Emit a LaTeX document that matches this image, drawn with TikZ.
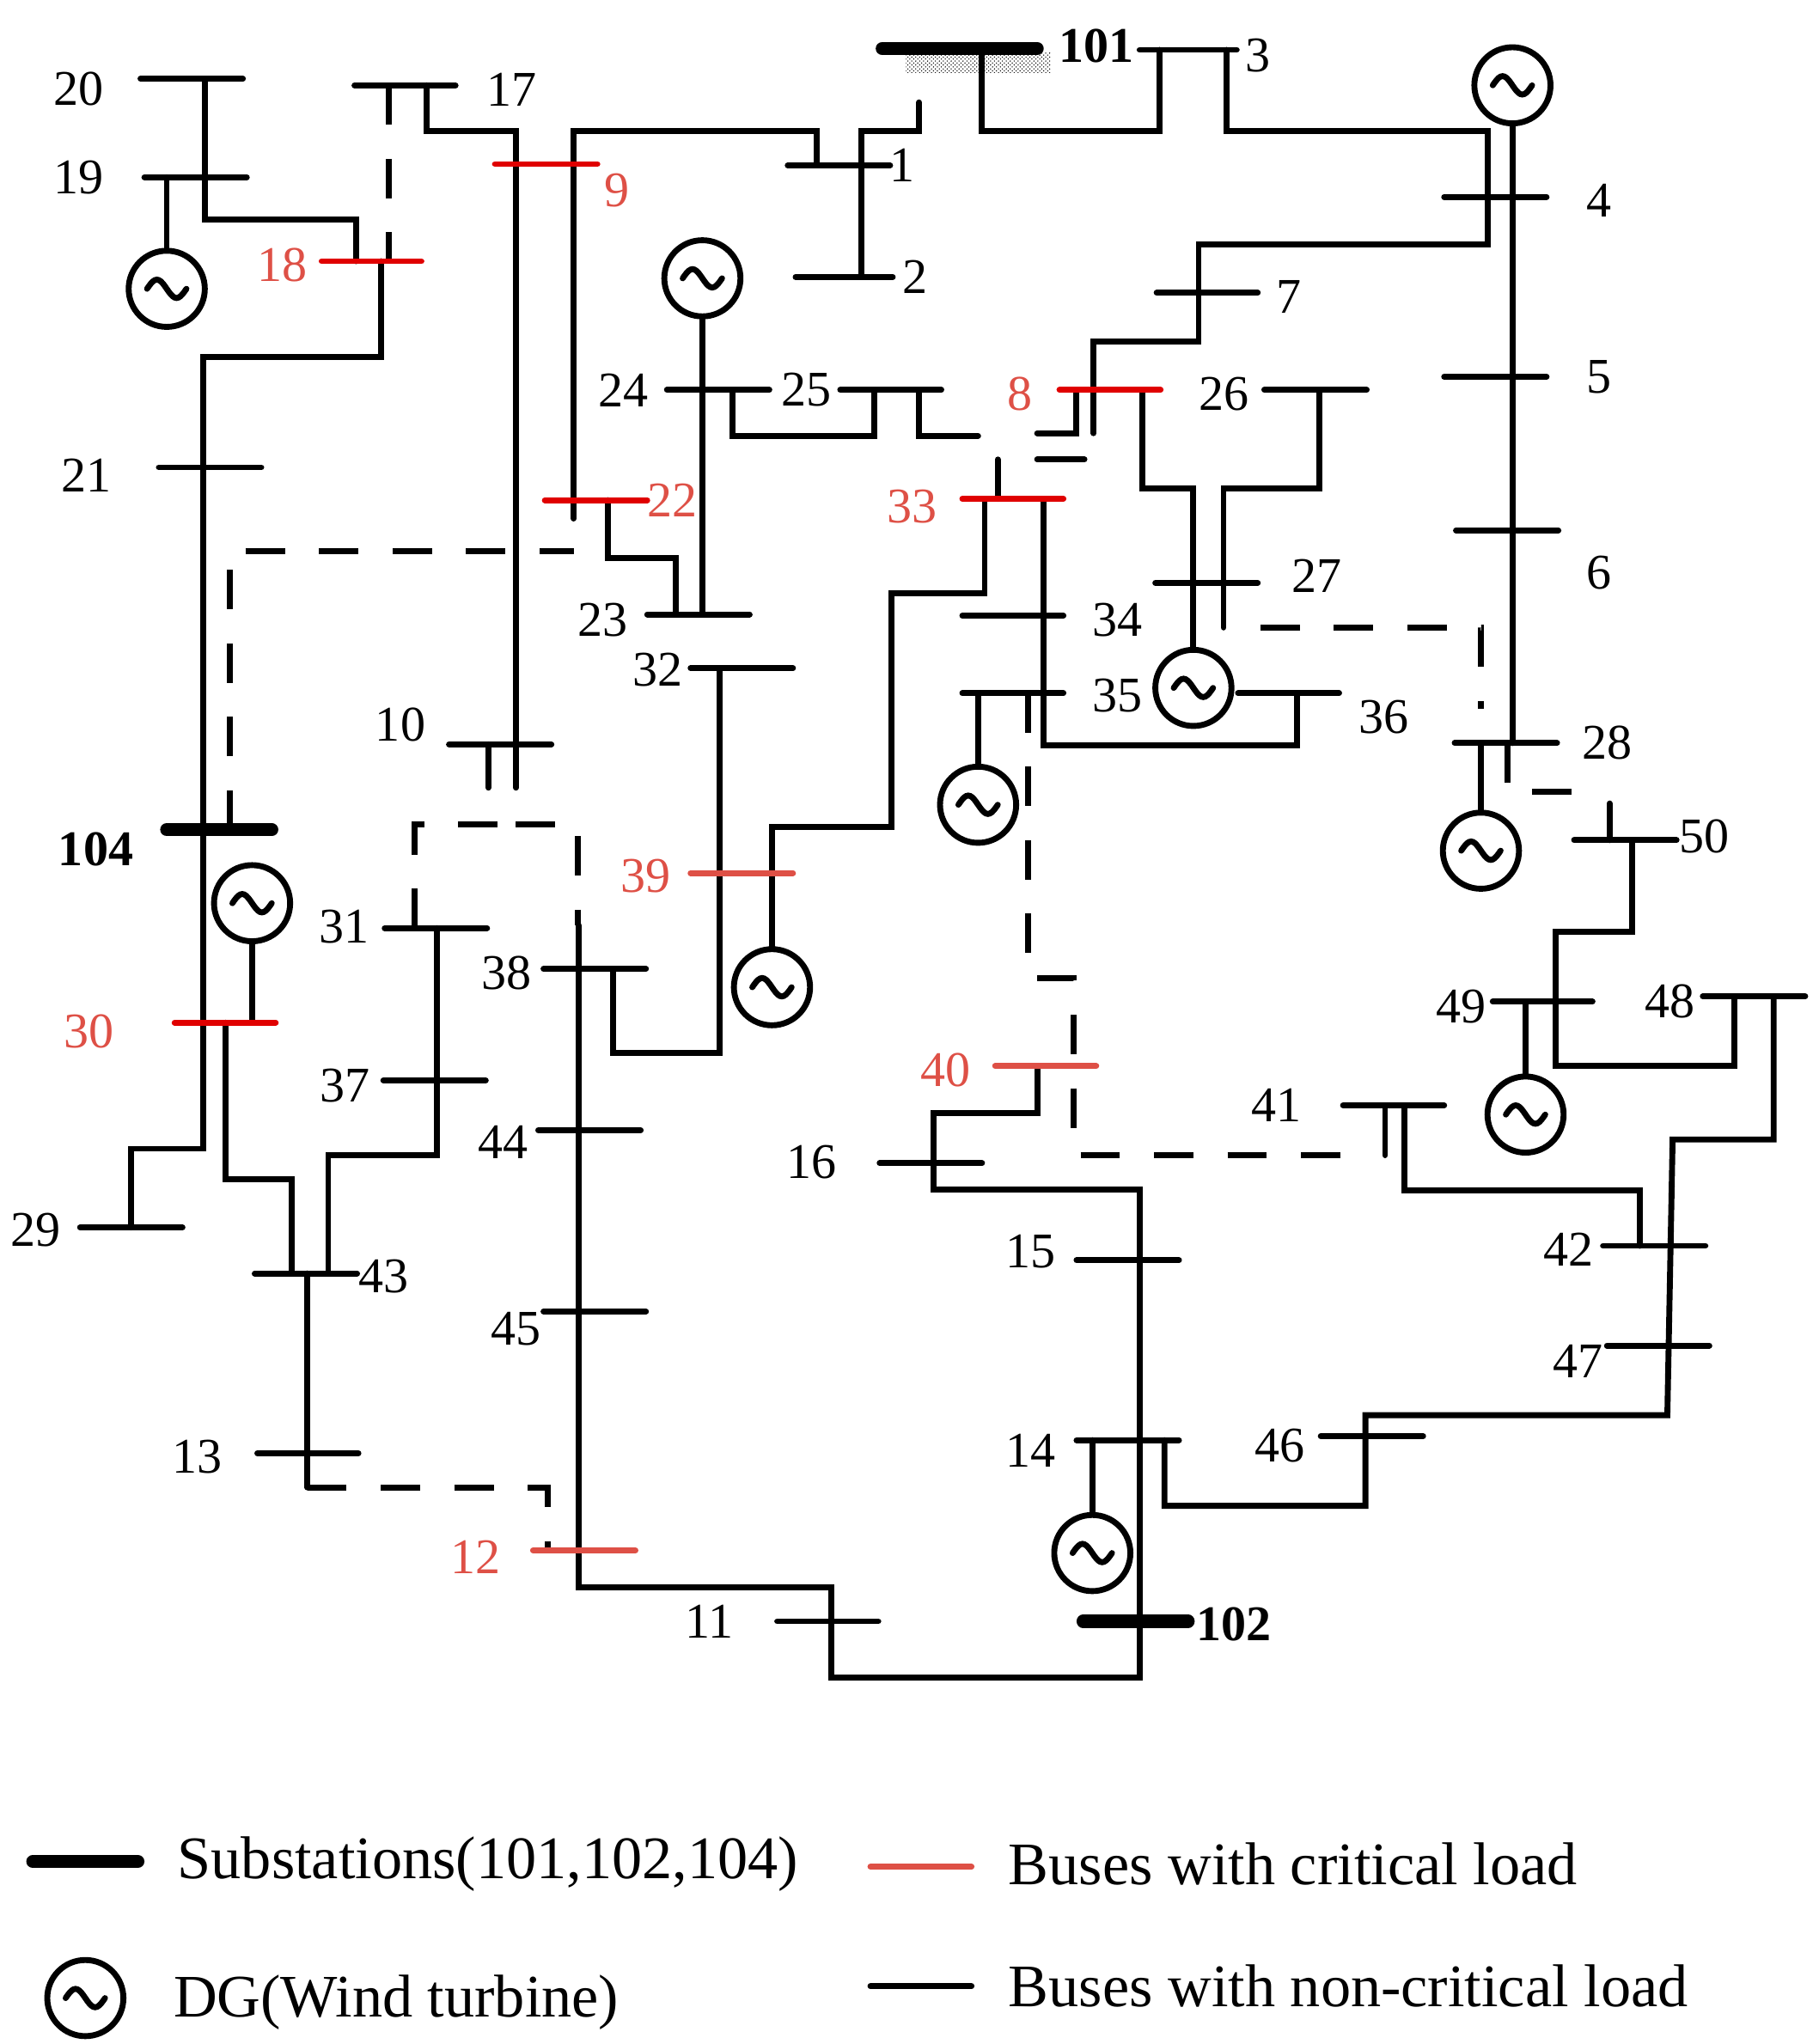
\documentclass[tikz,border=0pt]{standalone}
\usepackage{fontspec}
\setmainfont{Liberation Serif}
\usetikzlibrary{patterns}
\definecolor{crit}{RGB}{224,0,0}
\definecolor{critl}{RGB}{222,80,70}
\begin{document}
\begin{tikzpicture}[x=1pt,y=-1pt,line width=4.5pt,line cap=round,line join=miter,
  bus/.style={line width=4.5pt},
  rbus/.style={line width=4.5pt,crit},
  lbus/.style={line width=4.5pt,critl},
  sub/.style={line width=10pt},
  tie/.style={dash pattern=on 30pt off 26pt,line cap=butt},
  lab/.style={font=\fontsize{38}{40}\selectfont,inner sep=0pt},
  rlab/.style={lab,text=critl},
  blab/.style={lab,font=\fontsize{38}{40}\selectfont\bfseries},
  dg/.pic={\draw[line width=4.5pt,fill=white] (0,0) circle (29);
           \draw[line width=4.5pt] plot[smooth,domain=-1:1,samples=21] ({15*\x},{7*sin(180*\x)});}]
\useasboundingbox (0,0) rectangle (1385,1557);
% ---------- substations ----------
\fill[pattern=crosshatch dots] (690,40) rectangle (800,55);
\draw[sub] (672,37) -- (790,37);
\node[blab] at (835,35) {101};
\draw[sub] (825,1235) -- (905,1235);
\node[blab] at (940,1237) {102};
\draw[sub] (127,632) -- (207,632);
\node[blab] at (73,647) {104};
% ---------- solid lines ----------
\draw (437,395) -- (437,100) -- (622,100) -- (622,126);
\draw (656,211) -- (656,100) -- (700,100) -- (700,78);
\draw (748,37) -- (748,100) -- (883,100) -- (883,38);
\draw (934,38) -- (934,100) -- (1133,100) -- (1133,186) -- (913,186) -- (913,223) -- (913,260) -- (833,260) -- (833,330);
\draw (820,297) -- (820,330) -- (790,330);
\draw (760,350) -- (760,380);
\draw (790,350) -- (826,350);
\draw (325,65) -- (325,100) -- (393,100) -- (393,600);
\draw (156,60) -- (156,167) -- (271,167) -- (271,199);
\draw (290,199) -- (290,272) -- (155,272) -- (155,875) -- (100,875) -- (100,935);
\draw (172,779) -- (172,898) -- (222,898) -- (222,970);
\draw (234,970) -- (234,1133);
\draw (250,970) -- (250,880) -- (333,880) -- (333,707);
\draw (372,567) -- (372,600);
\draw (441,705) -- (441,1209) -- (633,1209) -- (633,1278) -- (868,1278) -- (868,906) -- (711,906) -- (711,848) -- (790,848) -- (790,812);
\draw (467,738) -- (467,802) -- (548,802) -- (548,509);
\draw (463,381) -- (463,425) -- (515,425) -- (515,468);
\draw (558,297) -- (558,332) -- (666,332) -- (666,297);
\draw (700,297) -- (700,332) -- (745,332);
\draw (795,380) -- (795,568) -- (988,568) -- (988,528);
\draw (870,297) -- (870,372) -- (909,372) -- (909,494);
\draw (1005,297) -- (1005,372) -- (932,372) -- (932,478);
\draw (1152,95) -- (1152,566);
\draw (1055,842) -- (1055,880);
\draw (1070,842) -- (1070,907) -- (1249,907) -- (1249,949);
\draw (1226,612) -- (1226,640);
\draw (1243,640) -- (1243,710) -- (1185,710) -- (1185,812) -- (1321,812) -- (1321,759);
\draw (1351,759) -- (1351,868) -- (1274,868) -- (1270,1078) -- (1040,1078) -- (1040,1147) -- (887,1147) -- (887,1097);
\draw (750,380) -- (750,452) -- (679,452) -- (679,630) -- (588,630) -- (588,722);
\draw (535,242) -- (535,468);
\draw (127,135) -- (127,190);
\draw (192,718) -- (192,779);
\draw (745,583) -- (745,528);
\draw (1128,566) -- (1128,618);
\draw (1162,763) -- (1162,819);
\draw (832,1097) -- (832,1153);
% ---------- dashed lines ----------
\draw[tie] (296,65) -- (296,199);
\draw[tie] (175,632) -- (175,420) -- (437,420);
\draw[tie] (234,1133) -- (417,1133) -- (417,1181);
\draw[tie] (316,707) -- (316,628) -- (393,628);
\draw[tie] (393,628) -- (440,628) -- (440,705);
\draw[tie] (960,478) -- (1128,478) -- (1128,540);
\draw[tie] (783,528) -- (783,745) -- (818,745) -- (818,880) -- (1040,880);
\draw[tie] (1148,566) -- (1148,603) -- (1212,603);
% ---------- buses ----------
\draw[bus] (868,38) -- (942,38);   \node[lab] at (958,42) {3};
\draw[bus] (107,60) -- (185,60);   \node[lab] at (60,68) {20};
\draw[bus] (270,65) -- (347,65);   \node[lab] at (390,68) {17};
\draw[bus] (110,135) -- (188,135); \node[lab] at (60,135) {19};
\draw[rbus] (377,125) -- (455,125); \node[rlab] at (470,145) {9};
\draw[bus] (600,126) -- (678,126); \node[lab] at (687,126) {1};
\draw[bus] (606,211) -- (680,211); \node[lab] at (697,211) {2};
\draw[rbus] (245,199) -- (321,199); \node[rlab] at (215,202) {18};
\draw[bus] (1100,150) -- (1178,150); \node[lab] at (1218,153) {4};
\draw[bus] (881,223) -- (958,223); \node[lab] at (982,226) {7};
\draw[bus] (508,297) -- (586,297); \node[lab] at (475,297) {24};
\draw[bus] (640,297) -- (717,297); \node[lab] at (614,297) {25};
\draw[rbus] (807,297) -- (884,297); \node[rlab] at (777,300) {8};
\draw[bus] (963,297) -- (1041,297); \node[lab] at (932,300) {26};
\draw[bus] (1100,287) -- (1178,287); \node[lab] at (1218,287) {5};
\draw[bus] (121,356) -- (199,356); \node[lab] at (66,362) {21};
\draw[rbus] (415,381) -- (493,381); \node[rlab] at (512,381) {22};
\draw[rbus] (733,380) -- (810,380); \node[rlab] at (695,386) {33};
\draw[bus] (1109,404) -- (1187,404); \node[lab] at (1218,436) {6};
\draw[bus] (880,444) -- (958,444); \node[lab] at (1003,439) {27};
\draw[bus] (493,468) -- (571,468); \node[lab] at (459,472) {23};
\draw[bus] (733,469) -- (810,469); \node[lab] at (851,472) {34};
\draw[bus] (526,509) -- (604,509); \node[lab] at (501,510) {32};
\draw[bus] (733,528) -- (810,528); \node[lab] at (851,530) {35};
\draw[bus] (943,528) -- (1020,528); \node[lab] at (1054,546) {36};
\draw[bus] (342,567) -- (420,567); \node[lab] at (305,552) {10};
\draw[bus] (1108,566) -- (1186,566); \node[lab] at (1224,566) {28};
\draw[bus] (1199,640) -- (1277,640); \node[lab] at (1298,637) {50};
\draw[lbus] (526,665) -- (604,665); \node[rlab] at (492,667) {39};
\draw[bus] (293,707) -- (371,707); \node[lab] at (262,706) {31};
\draw[bus] (414,738) -- (492,738); \node[lab] at (386,741) {38};
\draw[bus] (1137,763) -- (1213,763); \node[lab] at (1113,767) {49};
\draw[bus] (1297,759) -- (1375,759); \node[lab] at (1272,763) {48};
\draw[rbus] (133,779) -- (210,779); \node[rlab] at (68,786) {30};
\draw[lbus] (758,812) -- (835,812); \node[rlab] at (720,815) {40};
\draw[bus] (292,823) -- (370,823); \node[lab] at (263,827) {37};
\draw[bus] (1023,842) -- (1100,842); \node[lab] at (972,842) {41};
\draw[bus] (410,861) -- (488,861); \node[lab] at (383,870) {44};
\draw[bus] (670,886) -- (748,886); \node[lab] at (618,885) {16};
\draw[bus] (61,935) -- (139,935); \node[lab] at (27,937) {29};
\draw[bus] (1221,949) -- (1299,949); \node[lab] at (1195,952) {42};
\draw[bus] (820,960) -- (898,960); \node[lab] at (785,953) {15};
\draw[bus] (194,970) -- (272,970); \node[lab] at (292,972) {43};
\draw[bus] (414,999) -- (492,999); \node[lab] at (393,1012) {45};
\draw[bus] (1224,1025) -- (1302,1025); \node[lab] at (1202,1037) {47};
\draw[bus] (1006,1094) -- (1084,1094); \node[lab] at (975,1101) {46};
\draw[bus] (820,1097) -- (898,1097); \node[lab] at (785,1105) {14};
\draw[bus] (196,1107) -- (273,1107); \node[lab] at (150,1110) {13};
\draw[lbus] (406,1181) -- (484,1181); \node[rlab] at (362,1186) {12};
\draw[bus] (592,1235) -- (669,1235); \node[lab] at (540,1235) {11};
% ---------- DGs ----------
\foreach \p in {(1152,65),(127,220),(535,212),(909,524),(745,613),(1128,648),
                (192,688),(588,752),(1162,849),(832,1183)}
  \pic at \p {dg};
% ---------- legend ----------
\draw[sub] (25,1418) -- (105,1418);
\node[lab,anchor=west,font=\fontsize{46}{48}\selectfont] at (133,1420) {Substations(101,102,104)};
\pic at (65,1522) {dg};
\node[lab,anchor=west,font=\fontsize{46}{48}\selectfont] at (130,1525) {DG(Wind turbine)};
\draw[lbus] (663,1422) -- (740,1422);
\node[lab,anchor=west,font=\fontsize{46}{48}\selectfont] at (766,1420) {Buses with critical load};
\draw[bus] (663,1513) -- (740,1513);
\node[lab,anchor=west,font=\fontsize{46}{48}\selectfont] at (766,1513) {Buses with non-critical load};
\end{tikzpicture}
\end{document}
